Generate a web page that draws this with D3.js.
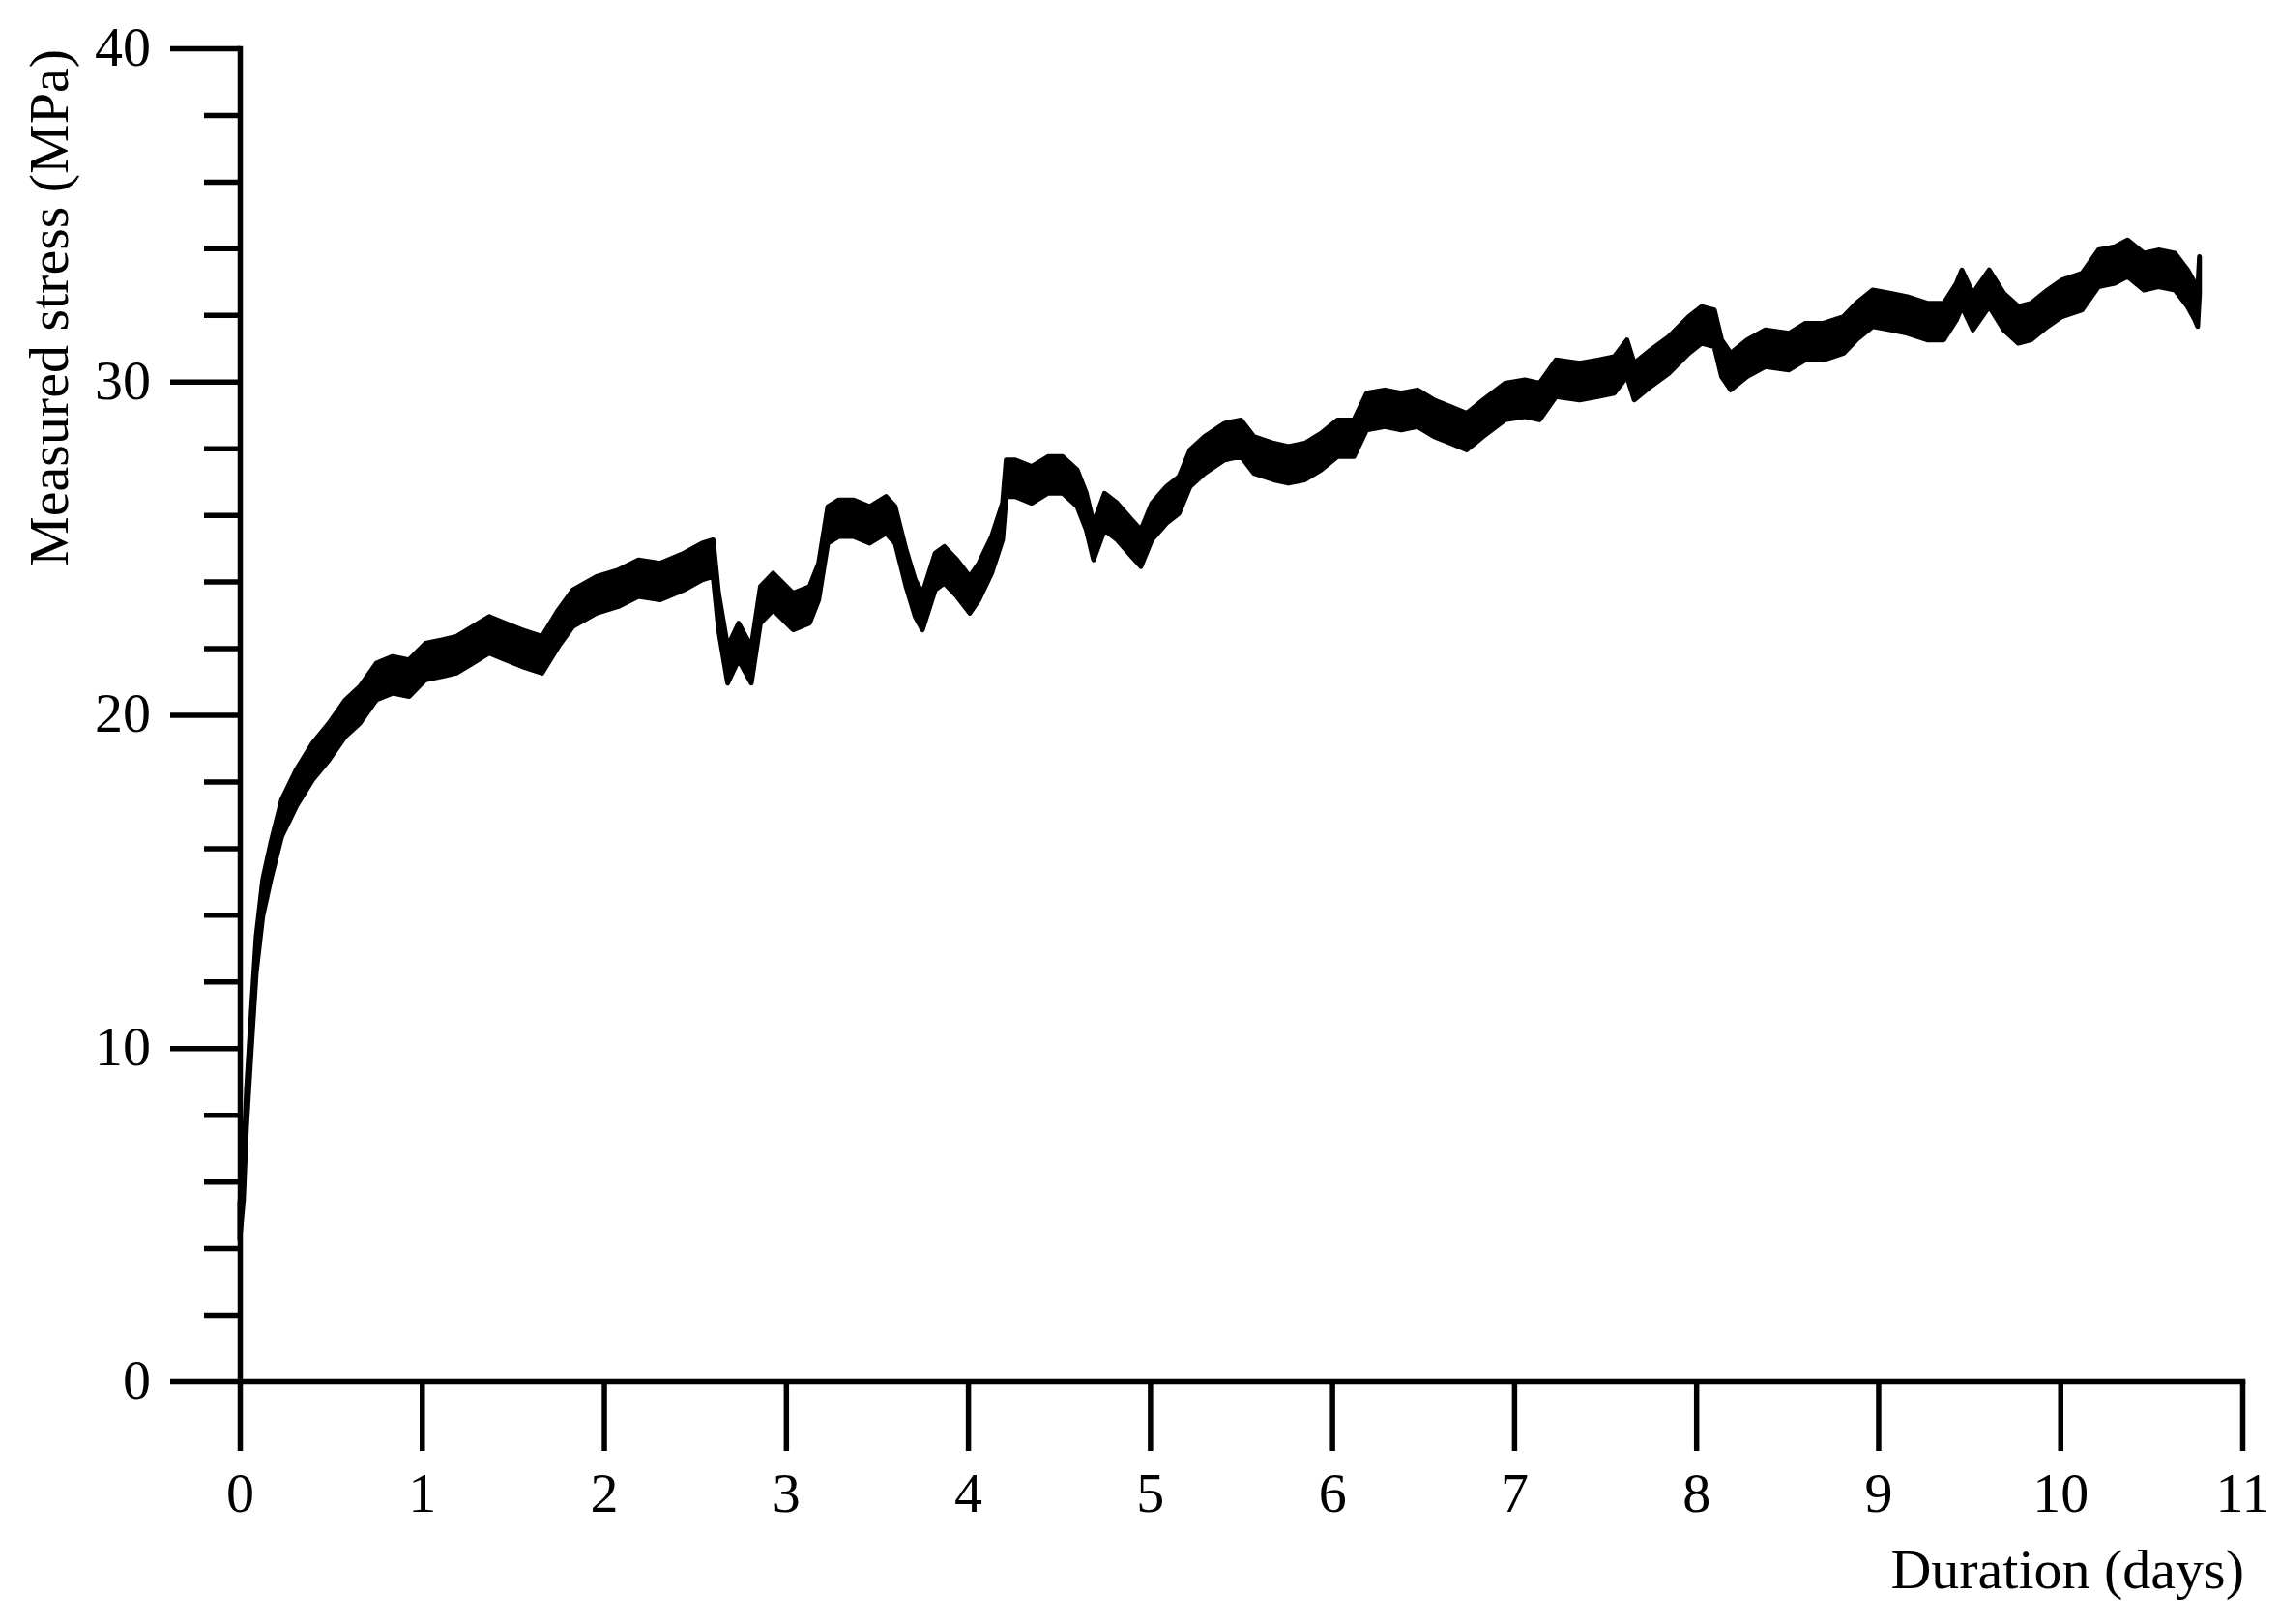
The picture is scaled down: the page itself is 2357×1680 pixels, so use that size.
<!DOCTYPE html>
<html>
<head>
<meta charset="utf-8">
<script src="https://cdn.jsdelivr.net/npm/d3@7"></script>
<style>
    body { margin: 0; background: #fff; }
    svg { display: block; }
    .axis path, .axis line { stroke: #000; stroke-width: 5.5; }
    .axis text { font-family: "Liberation Serif", "Times New Roman", serif; font-size: 58px; fill: #000; }
    .label { font-family: "Liberation Serif", "Times New Roman", serif; font-size: 58px; fill: #000; }
</style>
</head>
<body>
<div id="chart-area"></div>
<script>
// stress record (days, MPa at the middle of the noisy band)
var days = [0, 0.02, 0.037, 0.064, 0.09, 0.126, 0.17, 0.23, 0.31, 0.40,
    0.49, 0.58, 0.66, 0.75, 0.84, 0.93, 1.02, 1.11, 1.19, 1.28,
    1.37, 1.46, 1.55, 1.66, 1.75, 1.83, 1.96, 2.08, 2.19, 2.31,
    2.44, 2.54, 2.6, 2.63, 2.68, 2.74, 2.81, 2.86, 2.93, 3.04,
    3.13, 3.18, 3.23, 3.29, 3.37, 3.46, 3.55, 3.60, 3.66, 3.71,
    3.75, 3.82, 3.87, 3.94, 4.01, 4.06, 4.13, 4.19, 4.21, 4.26,
    4.35, 4.44, 4.52, 4.6, 4.65, 4.69, 4.75, 4.82, 4.9, 4.95,
    5.01, 5.09, 5.16, 5.22, 5.3, 5.41, 5.5, 5.57, 5.68, 5.76,
    5.85, 5.94, 6.03, 6.12, 6.19, 6.29, 6.38, 6.47, 6.56, 6.65,
    6.74, 6.83, 6.95, 7.06, 7.14, 7.23, 7.36, 7.46, 7.55, 7.62,
    7.66, 7.75, 7.85, 7.96, 8.03, 8.1, 8.14, 8.19, 8.28, 8.38,
    8.51, 8.6, 8.7, 8.81, 8.88, 8.97, 9.07, 9.16, 9.27, 9.36,
    9.43, 9.46, 9.52, 9.61, 9.69, 9.77, 9.84, 9.93, 10.01, 10.12,
    10.21, 10.3, 10.37, 10.46, 10.54, 10.63, 10.7, 10.74, 10.755, 10.765];

var stress = [4.8, 6.0, 8.2, 10.6, 12.8, 14.5, 15.6, 16.9, 17.8, 18.6,
    19.2, 19.9, 20.3, 21.0, 21.2, 21.1, 21.6, 21.7, 21.8, 22.1,
    22.4, 22.2, 22.0, 21.8, 22.6, 23.2, 23.6, 23.8, 24.1, 24.0,
    24.3, 24.6, 24.7, 23.1, 21.5, 22.2, 21.5, 23.3, 23.7, 23.1,
    23.3, 24.0, 25.7, 25.9, 25.9, 25.7, 26.0, 25.7, 24.4, 23.5,
    23.1, 24.3, 24.5, 24.1, 23.6, 24.0, 24.8, 25.8, 27.1, 27.1,
    26.9, 27.2, 27.2, 26.8, 26.1, 25.2, 26.1, 25.8, 25.3, 25.0,
    25.8, 26.3, 26.6, 27.4, 27.8, 28.2, 28.3, 27.8, 27.6, 27.5,
    27.6, 27.9, 28.3, 28.3, 29.1, 29.2, 29.1, 29.2, 28.9, 28.7,
    28.5, 28.9, 29.4, 29.5, 29.4, 30.1, 30.0, 30.1, 30.2, 30.7,
    30.0, 30.4, 30.8, 31.4, 31.7, 31.6, 30.7, 30.3, 30.7, 31.0,
    30.9, 31.2, 31.2, 31.4, 31.8, 32.2, 32.1, 32.0, 31.8, 31.8,
    32.4, 32.8, 32.1, 32.8, 32.1, 31.7, 31.8, 32.2, 32.5, 32.7,
    33.4, 33.5, 33.7, 33.3, 33.4, 33.3, 32.8, 32.4, 32.2, 33.2];

// half height of the noise band (MPa)
var noise = 0.55;

var xTicks = [0, 1, 2, 3, 4, 5, 6, 7, 8, 9, 10, 11];
var yMajor = [0, 10, 20, 30, 40];
var yMinor = [2, 4, 6, 8, 12, 14, 16, 18, 22, 24, 26, 28, 32, 34, 36, 38];

function stressPlot(){
    var W = 2357, H = 1680;
    var margin = { left:248, right:38, top:50, bottom:251 };

    var svg = d3.select("#chart-area")
        .append("svg")
        .attr("width", W)
        .attr("height", H);

    var g = svg.append("g")
        .attr("transform", "translate(" + margin.left + "," + margin.top + ")");

    var width = W - margin.left - margin.right,
        height = H - margin.top - margin.bottom;

    var x = d3.scaleLinear().domain([0, 11]).range([0, width]);
    var y = d3.scaleLinear().domain([0, 40]).range([height, 0]);

    var data = days.map(function(d, i){ return { t: d, s: stress[i] }; });

    // noisy record drawn as a band
    var band = d3.area()
        .x(function(d){ return x(d.t); })
        .y0(function(d){ return y(d.s - noise); })
        .y1(function(d){ return y(d.s + noise); });

    g.append("path")
        .datum(data)
        .attr("d", band)
        .attr("fill", "#000")
        .attr("stroke", "#000")
        .attr("stroke-width", 5)
        .attr("stroke-linejoin", "round");

    // Y axis - minor ticks first, then majors with labels
    g.append("g")
        .attr("class", "axis")
        .call(d3.axisLeft(y).tickValues(yMinor).tickSize(37).tickSizeOuter(0).tickFormat(""))
        .select(".domain").remove();

    g.append("g")
        .attr("class", "axis")
        .call(d3.axisLeft(y).tickValues(yMajor).tickSize(72).tickSizeOuter(0).tickPadding(20))
        .selectAll("text").attr("dy", "0.30em");

    // X axis
    g.append("g")
        .attr("class", "axis")
        .attr("transform", "translate(0," + height + ")")
        .call(d3.axisBottom(x).tickValues(xTicks).tickSize(72).tickSizeOuter(0).tickPadding(22));

    g.selectAll(".axis .domain").attr("stroke-linecap", "square");

    // Labels
    g.append("text")
        .attr("class", "label")
        .attr("x", width + 2)
        .attr("y", height + 214)
        .attr("text-anchor", "end")
        .text("Duration (days)");

    g.append("text")
        .attr("class", "label")
        .attr("transform", "translate(" + (70 - margin.left) + "," + 1 + ") rotate(-90)")
        .attr("text-anchor", "end")
        .text("Measured stress (MPa)");
}

stressPlot();
</script>
</body>
</html>
